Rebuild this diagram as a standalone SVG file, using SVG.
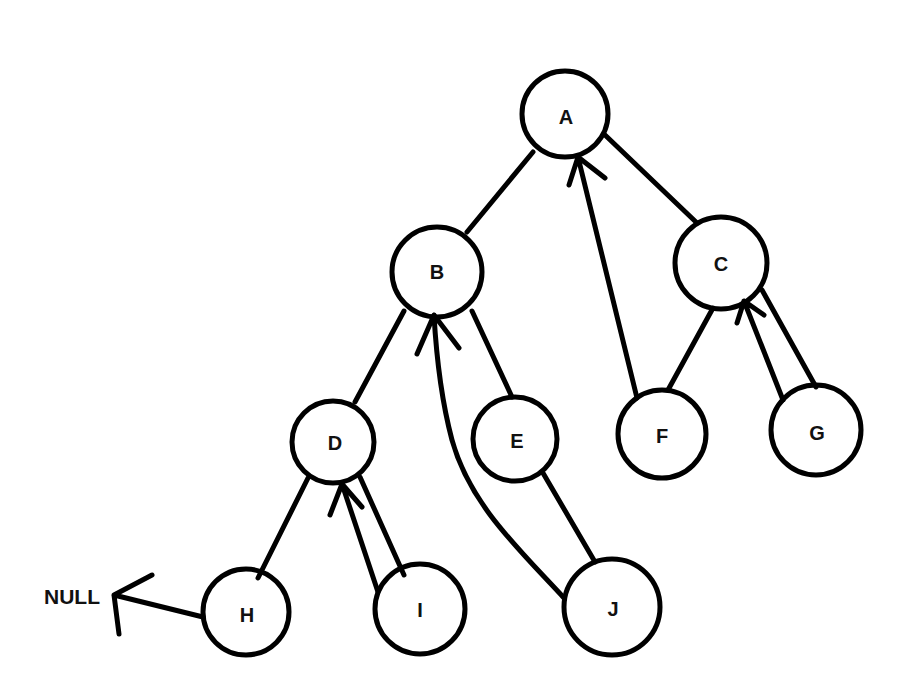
<svg xmlns="http://www.w3.org/2000/svg" width="899" height="678" viewBox="0 0 899 678">
<style>
.n{fill:none;stroke:#000;stroke-width:5}
.t{font-family:"Liberation Sans","DejaVu Sans",sans-serif;font-weight:bold;font-size:20px;text-anchor:middle;dominant-baseline:central;fill:#111}
.e{fill:none;stroke:#000;stroke-width:5;stroke-linecap:round;stroke-linejoin:round}
</style>
<rect width="899" height="678" fill="#fff"/>
<g id="connectors">
<path class="e" d="M533,152 L467,232"/>
<path class="e" d="M605,135 L697,223"/>
<path class="e" d="M637,398 L578,157 M569,185 L578,157 L605,178"/>
<path class="e" d="M404,311 L355,402"/>
<path class="e" d="M472,311 L512,397"/>
<path class="e" d="M564,598 C520,550 470,505 452,440 C440,395 436,350 434,315 M417,354 L434,315 L459,348"/>
<path class="e" d="M543,473 L595,562"/>
<path class="e" d="M713,308 L668,390"/>
<path class="e" d="M762,290 L816,387"/>
<path class="e" d="M783,400 L744,301 M737,323 L744,301 L764,315"/>
<path class="e" d="M308,478 L258,578"/>
<path class="e" d="M360,477 L404,575"/>
<path class="e" d="M378,592 L342,484 M330,515 L342,484 L362,507"/>
<path class="e" d="M203,617 L114,595 M152,575 L114,595 L119,634"/>
</g>
<g id="A"><circle class="n" cx="565" cy="114" r="43"/><text class="t" x="566" y="117">A</text></g>
<g id="B"><circle class="n" cx="437" cy="272" r="45"/><text class="t" x="437" y="272">B</text></g>
<g id="C"><circle class="n" cx="721" cy="263" r="46"/><text class="t" x="721" y="264">C</text></g>
<g id="D"><circle class="n" cx="333" cy="442" r="41"/><text class="t" x="335" y="443">D</text></g>
<g id="E"><circle class="n" cx="515" cy="439" r="42"/><text class="t" x="517" y="441">E</text></g>
<g id="F"><circle class="n" cx="662" cy="434" r="44"/><text class="t" x="662" y="436">F</text></g>
<g id="G"><circle class="n" cx="816" cy="430" r="45"/><text class="t" x="817" y="433">G</text></g>
<g id="H"><circle class="n" cx="246" cy="612" r="43"/><text class="t" x="247" y="615">H</text></g>
<g id="I"><circle class="n" cx="420" cy="609" r="45"/><text class="t" x="420" y="610">I</text></g>
<g id="J"><circle class="n" cx="612" cy="607" r="48"/><text class="t" x="613" y="609">J</text></g>
<g id="NULL"><text class="t" x="72" y="596" style="font-size:21px">NULL</text></g>
</svg>
